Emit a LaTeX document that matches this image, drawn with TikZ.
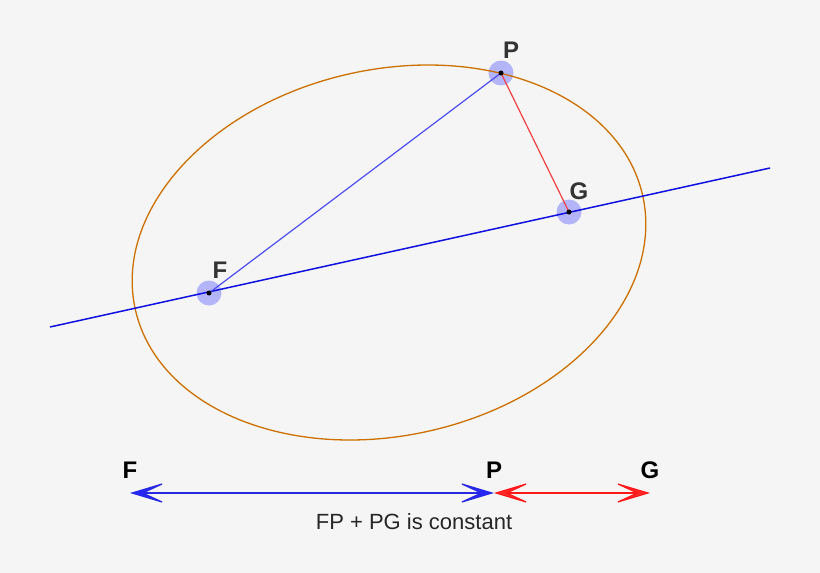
\documentclass[tikz,border=0pt]{standalone}
\usepackage{fontspec}
\setmainfont{Liberation Sans}
\usetikzlibrary{arrows.meta}
\definecolor{bg}{HTML}{F5F5F5}
\definecolor{ell}{HTML}{CC7000}
\definecolor{lblue}{HTML}{1010E0}
\definecolor{seg}{HTML}{4D4DF0}
\definecolor{rseg}{HTML}{F04040}
\definecolor{lab}{HTML}{333333}
\tikzset{
  pt/.style={circle,fill=black,inner sep=0pt,minimum size=5pt},
  halo/.style={circle,fill=blue!60!white,opacity=0.45,minimum size=25pt,inner sep=0pt},
  lbl/.style={font=\fontsize{24}{24}\selectfont\bfseries,text=lab},
  blbl/.style={font=\fontsize{24}{24}\selectfont\bfseries,text=black},
  tb/.tip={Stealth[length=40pt,width=24pt,inset=26pt,fill=blue!85!white]},
  tr/.tip={Stealth[length=40pt,width=24pt,inset=26pt,fill=red!85!white]},
}
\begin{document}
\begin{tikzpicture}[x=1pt,y=-1pt]
\fill[bg] (0,0) rectangle (820,573);
\useasboundingbox (0,0) rectangle (820,573);
\coordinate (F) at (209,293);
\coordinate (G) at (569,212);
\coordinate (P) at (501,73);
\coordinate (L1) at (50,327);
\coordinate (L2) at (770,168);
\node[halo] at (F) {};
\node[halo] at (G) {};
\node[halo] at (P) {};
\draw[ell,line width=1.3pt] (389,252.5) ellipse[x radius=260,y radius=183,rotate=12.7];
\draw[lblue,line width=1.5pt] (L1) -- (L2);
\draw[seg,line width=1.2pt] (F) -- (P);
\draw[rseg,line width=1.2pt] (P) -- (G);
\node[pt] (f) at (F) {};
\node[pt] (g) at (G) {};
\node[pt] (p) at (P) {};
\node[lbl] at (220,270) {F};
\node[lbl] at (579,191) {G};
\node[lbl] at (511,50) {P};
\coordinate (BF) at (130,493);
\coordinate (BP) at (494,493);
\coordinate (BG) at (650,493);
\draw[lblue!90!white,line width=1.2pt,tb-tb] (BF) -- (BP);
\draw[red!90!white,line width=1.2pt,tr-tr] (BP) -- (BG);
\node[blbl] at (130,470) {F};
\node[blbl] at (494,470) {P};
\node[blbl] at (650,470) {G};
\node[font=\fontsize{22}{22}\selectfont,text=black!85] (t) at (414,522) {FP + PG is constant};
\end{tikzpicture}
\end{document}
